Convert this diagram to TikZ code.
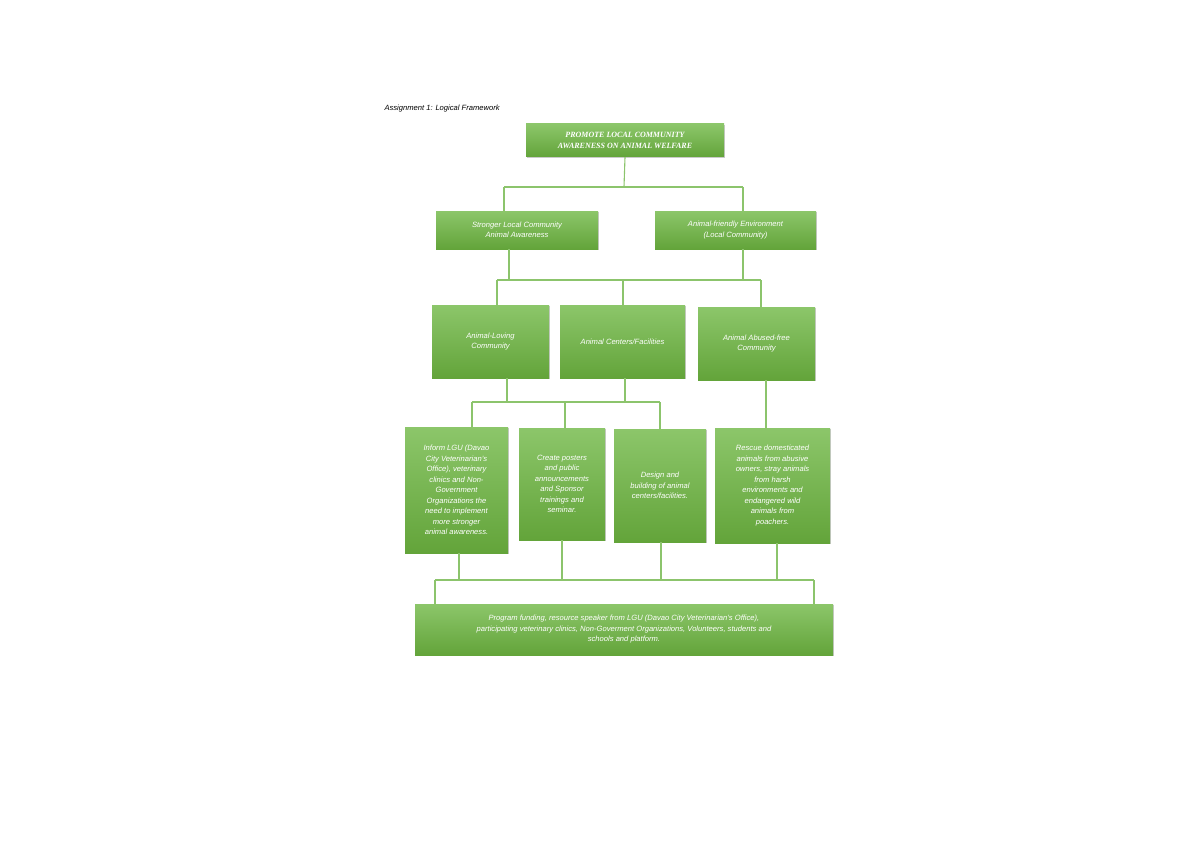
\documentclass[tikz,border=0pt]{standalone}
\usepackage{fontspec}
\setmainfont{Liberation Sans}
\newfontfamily\serifit{Liberation Serif}
\usetikzlibrary{shadows,calc}
\definecolor{gtop}{HTML}{8CC66A}
\definecolor{gbot}{HTML}{63A43A}
\definecolor{gline}{HTML}{8CC46C}
\tikzset{
 bx/.style={top color=gtop,bottom color=gbot,draw=none,text=white,align=center,
   font=\itshape\fontsize{7.6}{10.5}\selectfont,inner sep=1pt,
   drop shadow={shadow xshift=1.2pt,shadow yshift=-1.2pt,opacity=0.35,fill=black!60}},
 ln/.style={draw=gline,line width=1.1pt}
}
\begin{document}
\begin{tikzpicture}[x=1pt,y=-1pt]
\useasboundingbox (0,0) rectangle (1200,848);
\node[anchor=west,font=\itshape\fontsize{7.6}{9}\selectfont] (title) at (381,109) {Assignment 1: Logical Framework};
\node[bx,minimum width=198,minimum height=33,font=\serifit\bfseries\itshape\fontsize{8}{11}\selectfont] (top) at (625,140.5) {PROMOTE LOCAL COMMUNITY\\AWARENESS ON ANIMAL WELFARE};
\node[bx,minimum width=162,minimum height=38] (s1) at (517,230) {Stronger Local Community\\Animal Awareness};
\node[bx,minimum width=161,minimum height=38] (s2) at (735.5,230) {Animal-friendly Environment\\(Local Community)};
\node[bx,minimum width=117,minimum height=73] (m1) at (490.5,341.5) {Animal-Loving\\Community};
\node[bx,minimum width=125,minimum height=73] (m2) at (622.5,341.5) {Animal Centers/Facilities};
\node[bx,minimum width=117,minimum height=73] (m3) at (756.5,343.5) {Animal Abused-free\\Community};
\node[bx,minimum width=103,minimum height=126] (l1) at (456.5,490) {Inform LGU (Davao\\City Veterinarian's\\Office), veterinary\\clinics and Non-\\Government\\Organizations the\\need to implement\\more stronger\\animal awareness.};
\node[bx,minimum width=86,minimum height=112] (l2) at (562,484) {Create posters\\and public\\announcements\\and Sponsor\\trainings and\\seminar.};
\node[bx,minimum width=92,minimum height=113] (l3) at (660,485.5) {Design and\\building of animal\\centers/facilities.};
\node[bx,minimum width=115,minimum height=115] (l4) at (772.5,485.5) {Rescue domesticated\\animals from abusive\\owners, stray animals\\from harsh\\environments and\\endangered wild\\animals from\\poachers.};
\node[bx,minimum width=418,minimum height=51] (b) at (624,629.5) {Program funding, resource speaker from LGU (Davao City Veterinarian's Office),\\participating veterinary clinics, Non-Goverment Organizations, Volunteers, students and\\schools and platform.};
% level 1
\draw[ln] (top.south) -- (624,187) coordinate (j1);
\draw[ln] (504,187) -- (743,187);
\draw[ln] (504,187) -- (504,211);
\draw[ln] (743,187) -- (743,211);
% level 2
\draw[ln] (509,249) -- (509,280) coordinate (j2);
\draw[ln] (743,249) -- (743,280);
\draw[ln] (497,280) -- (761,280);
\draw[ln] (497,280) -- (497,305);
\draw[ln] (623,280) -- (623,305);
\draw[ln] (761,280) -- (761,307);
% level 3
\draw[ln] (507,378) -- (507,402);
\draw[ln] (625,378) -- (625,402);
\draw[ln] (472,402) -- (660,402);
\draw[ln] (472,402) -- (472,427);
\draw[ln] (565,402) -- (565,428);
\draw[ln] (660,402) -- (660,429);
\draw[ln] (766,380) -- (766,428);
% bottom
\draw[ln] (459,553) -- (459,580);
\draw[ln] (562,540) -- (562,580);
\draw[ln] (661,542) -- (661,580);
\draw[ln] (777,543) -- (777,580);
\draw[ln] (435,580) -- (814,580);
\draw[ln] (435,580) -- (435,604);
\draw[ln] (814,580) -- (814,604);
\end{tikzpicture}
\end{document}
